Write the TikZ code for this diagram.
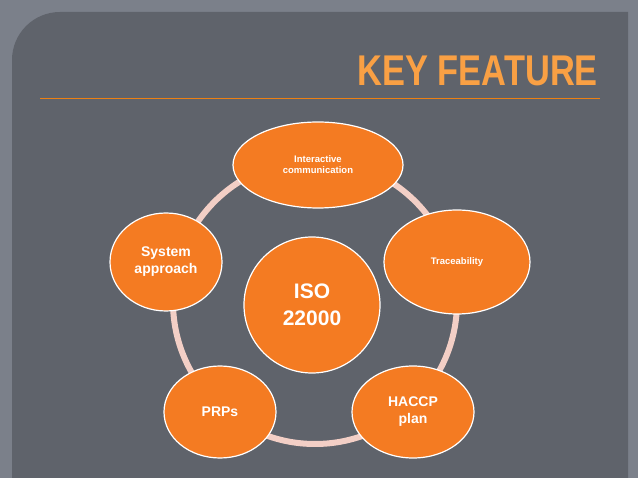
\documentclass[tikz,border=0pt]{standalone}
\usepackage{fontspec}
\setmainfont{Liberation Sans}
\usetikzlibrary{shapes.geometric}
\definecolor{bgout}{HTML}{7B808A}
\definecolor{panel}{HTML}{5F636B}
\definecolor{org}{HTML}{F47B22}
\definecolor{ttl}{HTML}{F9A044}
\definecolor{ring}{HTML}{F3CFC6}
\tikzset{
 feat/.style={ellipse,draw=white,line width=1.2pt,fill=org,text=white,font=\bfseries,align=center,inner sep=0pt},
}
\begin{document}
\begin{tikzpicture}[x=1pt,y=-1pt]
\useasboundingbox (0,0) rectangle (638,478);
\fill[bgout] (0,0) rectangle (638,478);
\fill[panel] (12,60) arc[start angle=180,end angle=270,radius=48] -- (628,12) -- (628,478) -- (12,478) -- cycle;
\node[anchor=base east,text=ttl,font=\bfseries\fontsize{43}{43}\selectfont,inner sep=0pt,xscale=0.8] (title) at (598,86) {KEY FEATURE};
\draw[orange!70!brown,line width=1pt] (40,99) -- (600,99);
\draw[ring,line width=6pt] (315,302) circle[radius=142];
\node[feat,minimum width=170,minimum height=86,font=\bfseries\fontsize{9.5}{11}\selectfont] (a) at (318,165) {Interactive\\communication};
\node[feat,minimum width=146,minimum height=104,font=\bfseries\fontsize{9.5}{11}\selectfont] (b) at (457,262) {Traceability};
\node[feat,minimum width=122,minimum height=92,font=\bfseries\fontsize{14}{17}\selectfont] (c) at (413,412) {HACCP\\plan};
\node[feat,minimum width=112,minimum height=92,font=\bfseries\fontsize{14}{17}\selectfont] (d) at (220,412) {PRPs};
\node[feat,minimum width=112,minimum height=98,font=\bfseries\fontsize{14}{17}\selectfont] (e) at (166,262) {System\\approach};
\node[feat,circle,minimum size=136,font=\bfseries\fontsize{21}{27}\selectfont] (iso) at (312,305) {ISO\\22000};
\end{tikzpicture}
\end{document}
